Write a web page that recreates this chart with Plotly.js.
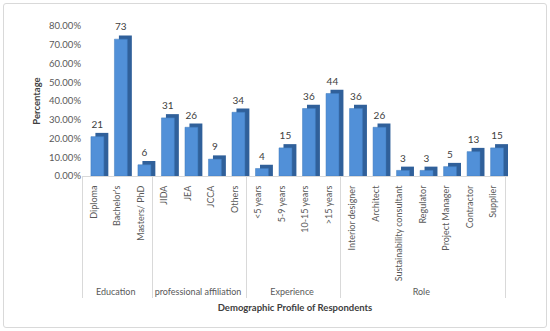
<!DOCTYPE html>
<html>
<head>
<meta charset="utf-8">
<script src="https://cdn.plot.ly/plotly-3.0.1.min.js"></script>
<style>
html,body{margin:0;padding:0;background:#fff;}
#wrap{position:relative;width:550px;height:331px;}
#chart{width:550px;height:331px;}
#frame{position:absolute;left:3px;top:3px;width:542px;height:323px;border:1px solid #d9d9d9;border-radius:3px;pointer-events:none;}
</style>
</head>
<body>
<div id="wrap"><div id="chart"></div><div id="frame"></div></div>
<script>
var groups = ["Education","Education","Education",
  "professional affiliation","professional affiliation","professional affiliation","professional affiliation",
  "Experience","Experience","Experience","Experience",
  "Role","Role","Role","Role","Role","Role","Role"];
var categories = ["Diploma","Bachelor's","Masters/ PhD",
  "JIDA","JEA","JCCA","Others",
  "<5 years","5-9 years","10-15 years",">15 years",
  "Interior designer","Architect","Sustainability consultant","Regulator","Project Manager","Contractor","Supplier"];
var counts = [21,73,6, 31,26,9,34, 4,15,36,44, 36,26,3,3,5,13,15];
var percents = [0.21,0.73,0.06, 0.31,0.26,0.09,0.34, 0.04,0.15,0.36,0.44, 0.36,0.26,0.03,0.03,0.05,0.13,0.15];

var depth = 0.02;
var x = [groups, categories];
var backY = percents.map(function(v){return v + depth;});
var font = "Lato, 'Open Sans', sans-serif";

var back = {type:'bar', x:x, y:backY, width:0.55, offset:0.07,
  marker:{color:'#30609a', line:{width:0}}, hoverinfo:'skip', showlegend:false};
var front = {type:'bar', x:x, y:percents, width:0.55, offset:-0.12,
  marker:{color:'#5190d8', line:{color:'#3f7abd', width:0.5}}, showlegend:false};
var labels = {type:'bar', x:x, y:backY, width:0.55, offset:-0.12,
  marker:{color:'rgba(0,0,0,0)'}, text:counts.map(String), textposition:'outside',
  textfont:{family:font, size:10, color:'#404040'}, cliponaxis:false, hoverinfo:'skip', showlegend:false};

var layout = {
  width:550, height:331,
  margin:{l:82, r:42, t:26, b:155},
  paper_bgcolor:'#fff', plot_bgcolor:'#fff',
  barmode:'overlay',
  font:{family:font, color:'#595959', size:9},
  xaxis:{type:'multicategory', tickangle:-90, tickfont:{family:font, size:9, color:'#595959'},
    ticklabelstandoff:5,
    showdividers:true, dividercolor:'#d9d9d9', dividerwidth:1,
    showline:true, linecolor:'#d9d9d9', linewidth:1, ticks:'',
    title:{text:'<b>Demographic Profile of Respondents</b>', font:{family:font, size:9.5, color:'#404040'}, standoff:7}},
  yaxis:{range:[0,0.8], dtick:0.1, tickformat:'.2%', showgrid:false, zeroline:false, showline:false,
    tickfont:{family:font, size:9.5, color:'#595959'}, ticks:'', ticklen:0,
    title:{text:'<b>Percentage</b>', font:{family:font, size:9.5, color:'#404040'}, standoff:6}},
  showlegend:false
};
Plotly.newPlot('chart', [back, front, labels], layout, {displayModeBar:false, staticPlot:true});
</script>
</body>
</html>
